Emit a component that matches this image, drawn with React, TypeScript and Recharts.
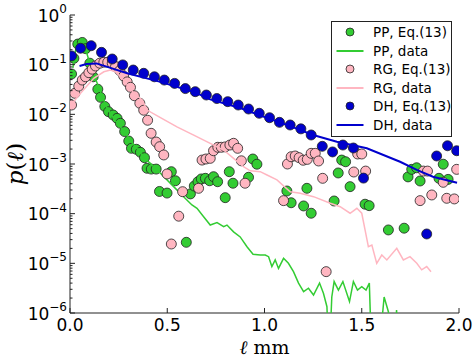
import { ComposedChart, Legend, Line, Scatter, XAxis, YAxis } from "recharts";

// [x in mm, p(l)] pairs
const ppEq: [number, number][] = [
  [0.008, 6.5e-2], [0.02, 1.34e-1], [0.04, 2.6e-1], [0.063, 2.8e-1], [0.081, 2.1e-1],
  [0.102, 1.07e-1], [0.119, 5.7e-2], [0.143, 3.2e-2], [0.157, 2.2e-2], [0.179, 1.44e-2],
  [0.198, 1.13e-2], [0.222, 9.7e-3], [0.242, 8.3e-3], [0.259, 6.6e-3], [0.281, 4.5e-3],
  [0.302, 2.9e-3], [0.316, 2.07e-3], [0.341, 1.98e-3], [0.362, 1.72e-3], [0.383, 1.34e-3],
  [0.396, 8.2e-4], [0.418, 7.9e-4], [0.443, 7.9e-4], [0.46, 2.8e-4], [0.499, 2.6e-4],
  [0.521, 7.0e-4], [0.542, 4.6e-4], [0.598, 2.65e-5], [0.619, 2.5e-4], [0.639, 3.6e-4],
  [0.658, 4.4e-4], [0.675, 5.0e-4], [0.696, 5.15e-4], [0.718, 4.6e-4], [0.738, 5.55e-4],
  [0.759, 4.4e-4], [0.798, 2.1e-4], [0.819, 7.0e-4], [0.838, 4.1e-4], [0.918, 5.4e-4],
  [0.94, 1.26e-3], [0.961, 9.9e-4], [1.115, 2.86e-4], [1.137, 1.66e-4], [1.201, 1.43e-4],
  [1.218, 3.24e-4], [1.24, 1.02e-4], [1.358, 1.8e-4], [1.379, 6.6e-4], [1.397, 1.2e-3],
  [1.417, 1.11e-3], [1.44, 3.5e-4], [1.517, 1.55e-4], [1.538, 1.45e-4], [1.637, 4.7e-5],
  [1.718, 5.1e-5], [1.738, 5.5e-4], [1.757, 7.8e-4], [1.782, 8.4e-4], [1.8, 4.55e-4],
  [1.897, 5.15e-4], [1.919, 9.9e-4], [1.944, 4.9e-4],
];

// values below 1e-6 are the spots where the curve drops off the bottom of the plot
const ppData: [number, number][] = [
  [0.015, 8.6e-2], [0.033, 2.49e-1], [0.05, 2.69e-1], [0.076, 2.3e-1], [0.102, 1.07e-1],
  [0.127, 5.7e-2], [0.153, 3.1e-2], [0.187, 1.43e-2], [0.23, 7.7e-3], [0.273, 4.8e-3],
  [0.316, 2.8e-3], [0.35, 1.91e-3], [0.384, 1.3e-3], [0.413, 1.03e-3], [0.465, 6.5e-4],
  [0.533, 3.5e-4], [0.584, 2.2e-4], [0.627, 1.5e-4], [0.653, 1.28e-4], [0.687, 8.7e-5],
  [0.721, 5.9e-5], [0.756, 6.6e-5], [0.79, 5.5e-5], [0.807, 5.9e-5], [0.841, 4.3e-5],
  [0.875, 3.4e-5], [0.91, 2.16e-5], [0.941, 1.52e-5], [0.978, 1.47e-5], [1.004, 1.47e-5],
  [1.021, 1.36e-5], [1.038, 8.6e-6], [1.055, 1.17e-5], [1.072, 7.9e-6], [1.098, 1.26e-5],
  [1.123, 1.0e-5], [1.149, 6.8e-6], [1.175, 4.0e-6], [1.201, 2.7e-6], [1.226, 3.15e-6],
  [1.252, 2.3e-6], [1.283, 4.0e-6], [1.303, 2.5e-6], [1.321, 1.34e-6], [1.332, 1e-7],
  [1.346, 2.1e-6], [1.358, 4.3e-6], [1.38, 2.9e-6], [1.403, 4.3e-6], [1.437, 1.7e-6],
  [1.457, 4.3e-6], [1.478, 2.9e-6], [1.5, 3.4e-6], [1.522, 2.9e-6], [1.539, 4.0e-6],
  [1.552, 1e-7], [1.584, 1e-7], [1.615, 2.1e-6], [1.637, 1.06e-6], [1.656, 1e-7],
  [1.666, 1e-7], [1.679, 1.15e-6], [1.692, 1e-7],
];

const rgEq: [number, number][] = [
  [0.008, 1.54e-2], [0.025, 2.65e-2], [0.045, 3.7e-2], [0.063, 4.9e-2], [0.08, 5.7e-2],
  [0.097, 6.9e-2], [0.114, 8.1e-2], [0.131, 9.4e-2], [0.153, 1.07e-1], [0.174, 1.12e-1],
  [0.194, 1.12e-1], [0.217, 1.07e-1], [0.234, 9.1e-2], [0.256, 7.6e-2], [0.276, 5.9e-2],
  [0.294, 4.5e-2], [0.311, 3.5e-2], [0.331, 2.37e-2], [0.359, 1.67e-2], [0.379, 1.21e-2],
  [0.399, 7.6e-3], [0.417, 4.15e-3], [0.443, 2.77e-3], [0.461, 2.23e-3], [0.482, 1.52e-3],
  [0.499, 6.3e-4], [0.521, 2.45e-5], [0.559, 8.9e-5], [0.579, 2.77e-4], [0.661, 3.24e-4],
  [0.679, 1.2e-3], [0.699, 1.26e-3], [0.721, 1.3e-3], [0.738, 1.85e-3], [0.76, 2.17e-3],
  [0.778, 2.17e-3], [0.798, 2.21e-3], [0.822, 2.41e-3], [0.841, 2.61e-3], [0.862, 2.07e-3],
  [0.881, 1.16e-3], [0.9, 4.1e-4], [1.098, 1.83e-4], [1.118, 1.0e-3], [1.137, 1.4e-3],
  [1.158, 1.45e-3], [1.178, 1.34e-3], [1.199, 1.19e-3], [1.22, 1.24e-3], [1.24, 1.64e-3],
  [1.261, 1.64e-3], [1.278, 1.15e-3], [1.299, 5.15e-4], [1.317, 6.8e-6], [1.459, 6.9e-4],
  [1.479, 1.59e-3], [1.5, 1.59e-3], [1.52, 7.2e-4], [1.8, 1.83e-4], [1.817, 7.2e-4],
  [1.838, 7.2e-4], [1.86, 2.38e-4], [1.919, 4.28e-4], [1.937, 2.04e-4], [1.976, 1.98e-4],
  [1.988, 7.8e-4],
];

const rgData: [number, number][] = [
  [0.005, 1.54e-2], [0.054, 2.65e-2], [0.122, 5.3e-2], [0.174, 7.2e-2], [0.208, 7.8e-2],
  [0.234, 7.2e-2], [0.276, 4.9e-2], [0.328, 2.65e-2], [0.371, 1.94e-2], [0.396, 1.22e-2],
  [0.465, 8.6e-3], [0.55, 5.6e-3], [0.636, 3.8e-3], [0.721, 2.6e-3], [0.79, 1.91e-3],
  [0.841, 1.3e-3], [0.892, 8.8e-4], [0.927, 7.3e-4], [0.978, 7.0e-4], [1.013, 6.0e-4],
  [1.064, 4.8e-4], [1.132, 2.77e-4], [1.184, 2.57e-4], [1.252, 2.2e-4], [1.338, 1.62e-4],
  [1.389, 1.38e-4], [1.44, 1.02e-4], [1.475, 1.28e-4], [1.5, 1.02e-4], [1.517, 4.7e-5],
  [1.534, 2.16e-5], [1.552, 2.34e-5], [1.577, 1.0e-5], [1.603, 1.47e-5], [1.629, 1.17e-5],
  [1.68, 2.0e-5], [1.714, 1.17e-5], [1.748, 1.36e-5], [1.783, 1.0e-5], [1.808, 7.4e-6],
  [1.834, 8.6e-6], [1.856, 6.8e-6],
];

const dhEq: [number, number][] = [
  [0.008, 1.5e-1], [0.054, 2.14e-1], [0.109, 2.41e-1], [0.162, 1.77e-1], [0.217, 1.3e-1],
  [0.271, 9.9e-2], [0.325, 7.8e-2], [0.379, 6.7e-2], [0.434, 5.7e-2], [0.485, 4.9e-2],
  [0.538, 4.2e-2], [0.593, 3.3e-2], [0.644, 2.86e-2], [0.701, 2.45e-2], [0.755, 2.08e-2],
  [0.811, 1.8e-2], [0.865, 1.54e-2], [0.918, 1.28e-2], [0.973, 1.05e-2], [1.026, 8.55e-3],
  [1.077, 6.9e-3], [1.132, 6.1e-3], [1.187, 5.1e-3], [1.24, 3.84e-3], [1.297, 2.27e-3],
  [1.35, 1.75e-3], [1.403, 2.41e-3], [1.457, 2.1e-3], [1.509, 5.2e-4], [1.834, 3.9e-5],
  [1.885, 1.45e-3], [1.941, 2.33e-3], [1.988, 1.85e-3],
];

const dhData: [number, number][] = [
  [0.049, 9.4e-2], [0.085, 1.03e-1], [0.136, 1.06e-1], [0.208, 8.6e-2], [0.294, 6.7e-2],
  [0.465, 4.5e-2], [0.634, 2.86e-2], [0.721, 2.0e-2], [0.875, 1.34e-2], [0.994, 9.0e-3],
  [1.132, 5.8e-3], [1.25, 3.84e-3], [1.372, 2.81e-3], [1.526, 2.07e-3], [1.697, 1.11e-3],
  [1.783, 7.6e-4], [1.866, 5.55e-4], [1.99, 4.2e-4],
];

const seriesNames = ["PP, Eq.(13)", "PP, data", "RG, Eq.(13)", "RG, data", "DH, Eq.(13)", "DH, data"];
const xTicks = [0, 0.5, 1, 1.5, 2];
const yDecades = [-6, -5, -4, -3, -2, -1, 0];

const GREEN = "#33CC33";
const PINK = "#FFB6C1";
const BLUE = "#0000CD";
const AXIS = "#222";

const toPoints = (arr: [number, number][]) => arr.map(([x, y]) => ({ x, y }));

// majors plus the 2..9 minor ticks of a matplotlib log axis
const yTicks: number[] = [];
yDecades.forEach((e) => {
  for (let k = 1; k <= 9; k++) {
    if (e === 0 && k > 1) break;
    yTicks.push(k * Math.pow(10, e));
  }
});

const isMajor = (v: number) => {
  const l = Math.log10(v);
  return Math.abs(l - Math.round(l)) < 1e-6;
};

function LeftTick({ x, y, payload }: any) {
  const v = payload.value;
  const major = isMajor(v);
  const e = Math.round(Math.log10(v));
  const ax = x + 3;
  return (
    <g>
      <line x1={ax} x2={ax + (major ? 5 : 2.5)} y1={y} y2={y} stroke={AXIS} />
      {major && (
        <text x={x} y={y + 6.5} textAnchor="end" fontSize={17} fill="#000">
          10
          <tspan dy={-8.5} fontSize={12}>
            {e < 0 ? "\u2212" + Math.abs(e) : String(e)}
          </tspan>
        </text>
      )}
    </g>
  );
}

function RightTick({ x, y, payload }: any) {
  const major = isMajor(payload.value);
  return <line x1={x} x2={x - (major ? 5 : 2.5)} y1={y} y2={y} stroke={AXIS} />;
}

function BottomTick({ x, y, payload }: any) {
  return (
    <g>
      <line x1={x} x2={x} y1={y} y2={y - 5} stroke={AXIS} />
      <text x={x} y={y + 17.5} textAnchor="middle" fontSize={17} fill="#000">
        {payload.value.toFixed(1)}
      </text>
    </g>
  );
}

function TopTick({ x, y }: any) {
  return <line x1={x} x2={x} y1={y} y2={y + 5} stroke={AXIS} />;
}

function XLabel({ viewBox }: any) {
  const cx = viewBox.x + viewBox.width / 2;
  return (
    <text x={cx} y={viewBox.y + 41} textAnchor="middle" fontFamily="DejaVu Serif" fontSize={19} fill="#000">
      <tspan fontStyle="italic">ℓ</tspan> mm
    </text>
  );
}

function YLabel({ viewBox }: any) {
  const cx = 15;
  const cy = viewBox.y + viewBox.height / 2;
  return (
    <text
      x={cx}
      y={cy}
      transform={`rotate(-90, ${cx}, ${cy})`}
      textAnchor="middle"
      dominantBaseline="central"
      fontFamily="DejaVu Serif"
      fontSize={23}
      fill="#000"
    >
      <tspan fontStyle="italic">p</tspan>(<tspan fontStyle="italic">ℓ</tspan>)
    </text>
  );
}

const dot = (fill: string) => (props: any) =>
  <circle cx={props.cx} cy={props.cy} r={5} fill={fill} stroke="#222" strokeWidth={0.8} />;

const legendMarks = [
  { kind: "dot", color: GREEN },
  { kind: "line", color: GREEN },
  { kind: "dot", color: PINK },
  { kind: "line", color: PINK },
  { kind: "dot", color: BLUE },
  { kind: "line", color: BLUE },
];

function LegendBox() {
  return (
    <div
      style={{
        width: 121,
        height: 116,
        boxSizing: "border-box",
        border: `1px solid ${AXIS}`,
        background: "#fff",
        paddingTop: 1,
        fontFamily: "DejaVu Sans",
        fontSize: 13.5,
        color: "#000",
      }}
    >
      {seriesNames.map((name, i) => (
        <div key={name} style={{ display: "flex", alignItems: "center", height: 18.5 }}>
          <svg width={41} height={18} style={{ flex: "none" }}>
            {legendMarks[i].kind === "dot" ? (
              <circle cx={18} cy={9} r={4} fill={legendMarks[i].color} stroke="#222" strokeWidth={0.8} />
            ) : (
              <line x1={4.5} x2={31.5} y1={9} y2={9} stroke={legendMarks[i].color} strokeWidth={2} />
            )}
          </svg>
          <span style={{ whiteSpace: "nowrap" }}>{name}</span>
        </div>
      ))}
    </div>
  );
}

export default function App() {
  return (
    <div style={{ position: "absolute", left: 0, top: 0, width: 474, height: 358, background: "#fff" }}>
      <ComposedChart
        width={474}
        height={358}
        margin={{ top: 15, right: 15, bottom: 15, left: 0 }}
        style={{ fontFamily: "DejaVu Sans" }}
      >
        <XAxis
          dataKey="x"
          type="number"
          domain={[0, 2]}
          ticks={xTicks}
          interval={0}
          height={30}
          tickSize={0}
          tickMargin={0}
          tick={<BottomTick />}
          axisLine={{ stroke: AXIS }}
          tickLine={false}
          allowDataOverflow
          label={<XLabel />}
        />
        <XAxis
          xAxisId="top"
          orientation="top"
          dataKey="x"
          type="number"
          domain={[0, 2]}
          ticks={xTicks}
          interval={0}
          height={0}
          tickSize={0}
          tickMargin={0}
          tick={<TopTick />}
          axisLine={{ stroke: AXIS }}
          tickLine={false}
        />
        <YAxis
          type="number"
          scale="log"
          domain={[1e-6, 1]}
          ticks={yTicks}
          interval={0}
          width={70}
          tickSize={0}
          tickMargin={3}
          tick={<LeftTick />}
          axisLine={{ stroke: AXIS }}
          tickLine={false}
          allowDataOverflow
          label={<YLabel />}
        />
        <YAxis
          yAxisId="right"
          orientation="right"
          type="number"
          scale="log"
          domain={[1e-6, 1]}
          ticks={yTicks}
          interval={0}
          width={0}
          tickSize={0}
          tickMargin={0}
          tick={<RightTick />}
          axisLine={{ stroke: AXIS }}
          tickLine={false}
          allowDataOverflow
        />
        <Scatter name={seriesNames[0]} data={toPoints(ppEq)} dataKey="y" shape={dot(GREEN)} zIndex={601} isAnimationActive={false} />
        <Line name={seriesNames[1]} data={toPoints(ppData)} dataKey="y" type="linear" stroke={GREEN} strokeWidth={1.5} dot={false} zIndex={602} isAnimationActive={false} />
        <Scatter name={seriesNames[2]} data={toPoints(rgEq)} dataKey="y" shape={dot(PINK)} zIndex={603} isAnimationActive={false} />
        <Line name={seriesNames[3]} data={toPoints(rgData)} dataKey="y" type="linear" stroke={PINK} strokeWidth={1.5} dot={false} zIndex={604} isAnimationActive={false} />
        <Scatter name={seriesNames[4]} data={toPoints(dhEq)} dataKey="y" shape={dot(BLUE)} zIndex={605} isAnimationActive={false} />
        <Line name={seriesNames[5]} data={toPoints(dhData)} dataKey="y" type="linear" stroke={BLUE} strokeWidth={2} dot={false} zIndex={606} isAnimationActive={false} />
        <Legend
          layout="vertical"
          align="center"
          verticalAlign="middle"
          wrapperStyle={{ left: 331, top: 21, width: 121, height: 116 }}
          content={<LegendBox />}
        />
      </ComposedChart>
    </div>
  );
}
